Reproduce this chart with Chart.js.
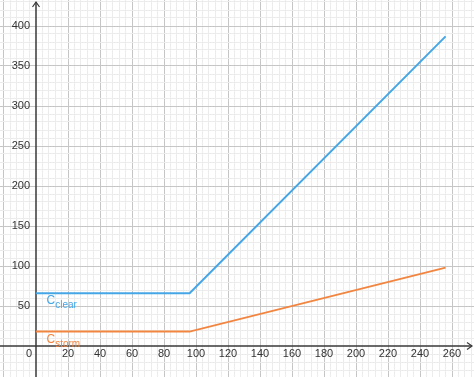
<!DOCTYPE html>
<html>
<head>
<meta charset="utf-8">
<script src="https://cdn.jsdelivr.net/npm/chart.js@4/dist/chart.umd.min.js"></script>
<style>
  html, body { margin: 0; padding: 0; background: #fff; }
  #wrap { width: 474px; height: 377px; position: relative; }
</style>
</head>
<body>
<div id="wrap"><canvas id="chart"></canvas></div>
<script>
// data
const clearX = [0, 96, 256];
const clearY = [66, 66, 387];
const stormX = [0, 96, 256];
const stormY = [18, 18, 98];
const xTickLabels = [20, 40, 60, 80, 100, 120, 140, 160, 180, 200, 220, 240, 260];
const yTickLabels = [50, 100, 150, 200, 250, 300, 350, 400];

const toPoints = (xs, ys) => xs.map((x, i) => ({ x: x, y: ys[i] }));

const blue = '#45a6e6';
const orange = '#f28540';

// axes with arrows, tick numbers and curve names
const axesPlugin = {
  id: 'axes',
  beforeDatasetsDraw(chart) {
    const ctx = chart.ctx;
    const xs = chart.scales.x, ys = chart.scales.y;
    const x0 = xs.getPixelForValue(0), y0 = ys.getPixelForValue(0);
    const area = chart.chartArea;
    ctx.save();
    ctx.strokeStyle = '#3a3a3a';
    ctx.fillStyle = '#3a3a3a';
    ctx.lineWidth = 1.5;
    ctx.beginPath();
    ctx.moveTo(area.left, y0); ctx.lineTo(area.right - 2, y0);
    ctx.moveTo(x0, area.bottom); ctx.lineTo(x0, area.top + 2);
    ctx.stroke();
    // arrow heads
    ctx.lineWidth = 1.2;
    ctx.beginPath();
    ctx.moveTo(area.right - 7, y0 - 3.5); ctx.lineTo(area.right - 2, y0); ctx.lineTo(area.right - 7, y0 + 3.5);
    ctx.moveTo(x0 - 3.5, area.top + 7); ctx.lineTo(x0, area.top + 2); ctx.lineTo(x0 + 3.5, area.top + 7);
    ctx.stroke();

    ctx.font = '11px "Liberation Sans", Arial, sans-serif';
    ctx.fillStyle = '#333';
    ctx.textAlign = 'center';
    ctx.textBaseline = 'middle';
    xTickLabels.forEach(v => ctx.fillText(String(v), xs.getPixelForValue(v), y0 + 8));
    ctx.fillText('0', x0 - 7, y0 + 8);
    ctx.textAlign = 'right';
    yTickLabels.forEach(v => ctx.fillText(String(v), x0 - 6, ys.getPixelForValue(v)));

    // curve names
    const name = (main, sub, color, px, py) => {
      ctx.fillStyle = color;
      ctx.textAlign = 'left';
      ctx.textBaseline = 'alphabetic';
      ctx.font = '12px "Liberation Sans", Arial, sans-serif';
      ctx.fillText(main, px, py);
      const w = ctx.measureText(main).width;
      ctx.font = '10px "Liberation Sans", Arial, sans-serif';
      ctx.fillText(sub, px + w, py + 4);
    };
    name('C', 'clear', blue, 46.5, 304);
    name('C', 'storm', orange, 46.5, 343);
    ctx.restore();
  }
};

const gridColor = (major) => (c) => {
  const v = c.tick ? c.tick.value : 0;
  if (Math.abs(v) < 1e-9) return 'rgba(0,0,0,0)';
  return Math.abs(v % major) < 1e-6 ? '#c6c6c6' : '#ececec';
};

new Chart(document.getElementById('chart'), {
  type: 'scatter',
  data: {
    datasets: [{
      label: 'Cclear',
      data: toPoints(clearX, clearY),
      showLine: true,
      borderColor: blue,
      borderWidth: 2,
      pointRadius: 0
    }, {
      label: 'Cstorm',
      data: toPoints(stormX, stormY),
      showLine: true,
      borderColor: orange,
      borderWidth: 2,
      pointRadius: 0
    }]
  },
  options: {
    responsive: true,
    maintainAspectRatio: false,
    animation: false,
    layout: { padding: 0 },
    plugins: { legend: { display: false }, tooltip: { enabled: false } },
    scales: {
      x: {
        type: 'linear',
        min: -22.5,
        max: 273.75,
        border: { display: false },
        grid: { color: gridColor(20), lineWidth: 1, drawTicks: false },
        ticks: { display: false, stepSize: 4, includeBounds: false, autoSkip: false }
      },
      y: {
        type: 'linear',
        min: -38.75,
        max: 432.5,
        border: { display: false },
        grid: { color: gridColor(50), lineWidth: 1, drawTicks: false },
        ticks: { display: false, stepSize: 10, includeBounds: false, autoSkip: false }
      }
    }
  },
  plugins: [axesPlugin]
});
</script>
</body>
</html>
